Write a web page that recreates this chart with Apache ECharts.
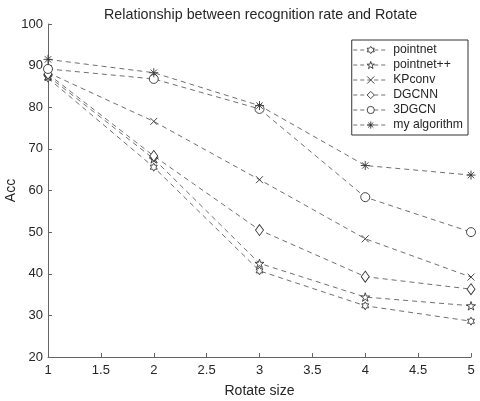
<!DOCTYPE html>
<html><head><meta charset="utf-8">
<script src="https://cdn.jsdelivr.net/npm/echarts@6/dist/echarts.min.js"></script>
<style>html,body{margin:0;padding:0;background:#fff}#c{width:480px;height:401px}</style>
</head><body><div id="c"></div>
<script>
const rotateSizes = [1, 2, 3, 4, 5];
const seriesNames = ['pointnet', 'pointnet++', 'KPconv', 'DGCNN', '3DGCN', 'my algorithm'];
const pointnet = [87.0, 65.6, 40.7, 32.3, 28.6];
const pointnetPP = [87.5, 67.6, 42.5, 34.4, 32.3];
const kpconv = [88.3, 76.6, 62.6, 48.4, 39.2];
const dgcnn = [88.0, 68.3, 50.5, 39.3, 36.3];
const gcn3d = [89.2, 86.8, 79.6, 58.4, 50.0];
const myAlgorithm = [91.5, 88.3, 80.4, 66.0, 63.7];
const xTicks = [1, 1.5, 2, 2.5, 3, 3.5, 4, 4.5, 5];
const yTicks = [20, 30, 40, 50, 60, 70, 80, 90, 100];

const values = [pointnet, pointnetPP, kpconv, dgcnn, gcn3d, myAlgorithm];
const symbols = [
  'path://M0,-10L2.89,-5L8.66,-5L5.77,0L8.66,5L2.89,5L0,10L-2.89,5L-8.66,5L-5.77,0L-8.66,-5L-2.89,-5Z',
  'path://M0,-10L2.25,-3.09L9.51,-3.09L3.63,1.18L5.88,8.09L0,3.82L-5.88,8.09L-3.63,1.18L-9.51,-3.09L-2.25,-3.09Z',
  'path://M-10,-10L10,10M10,-10L-10,10',
  'diamond',
  'circle',
  'path://M-10,0L10,0M0,-10L0,10M-7.07,-7.07L7.07,7.07M7.07,-7.07L-7.07,7.07'
];
const sizes = [[8,8],[9,9],[7,7],[8,11],[9,9],[9,9]];
const lineCol = '#707070';
const markCol = '#333';

const chart = echarts.init(document.getElementById('c'), null, {renderer: 'canvas'});
const font = 'Liberation Sans, Arial, sans-serif';
chart.setOption({
  animation: false,
  backgroundColor: '#fff',
  title: {
    text: 'Relationship between recognition rate and Rotate',
    left: 99, top: 3,
    textStyle: {fontFamily: font, fontSize: 14.3, fontWeight: 'normal', color: '#262626'}
  },
  legend: {
    data: seriesNames,
    orient: 'vertical',
    right: 12, top: 40,
    itemWidth: 35, itemHeight: 9, itemGap: 3,
    padding: [4, 5, 4, 1],
    borderColor: '#333', borderWidth: 1,
    backgroundColor: '#fff',
    itemStyle: {color: '#fff', borderColor: markCol, borderWidth: 0.9},
    lineStyle: {color: lineCol, width: 1, type: [4, 3]},
    textStyle: {fontFamily: font, fontSize: 12.2, color: '#262626'}
  },
  grid: {left: 48, right: 9, top: 24, bottom: 44, outerBoundsMode: 'none', containLabel: false},
  xAxis: {
    type: 'value', min: 1, max: 5, interval: 0.5,
    name: 'Rotate size', nameLocation: 'middle', nameGap: 27, nameMoveOverlap: false,
    nameTextStyle: {fontFamily: font, fontSize: 14, color: '#262626'},
    axisLine: {show: true, lineStyle: {color: '#666'}},
    axisTick: {show: true, inside: true, length: 4, lineStyle: {color: '#666'}},
    axisLabel: {fontFamily: font, fontSize: 13, color: '#262626', margin: 7,
      formatter: v => xTicks.includes(v) ? String(v) : ''},
    splitLine: {show: false}
  },
  yAxis: {
    type: 'value', min: 20, max: 100, interval: 10,
    name: 'Acc', nameLocation: 'middle', nameGap: 30, nameMoveOverlap: false,
    nameTextStyle: {fontFamily: font, fontSize: 14, color: '#262626'},
    axisLine: {show: true, lineStyle: {color: '#666'}},
    axisTick: {show: true, inside: true, length: 4, lineStyle: {color: '#666'}},
    axisLabel: {fontFamily: font, fontSize: 13, color: '#262626', margin: 5,
      formatter: v => yTicks.includes(v) ? String(v) : ''},
    splitLine: {show: false}
  },
  series: seriesNames.map((name, i) => ({
    name: name,
    type: 'line',
    color: lineCol,
    data: rotateSizes.map((x, j) => [x, values[i][j]]),
    symbol: symbols[i],
    symbolSize: sizes[i],
    symbolKeepAspect: true,
    showAllSymbol: true,
    lineStyle: {color: lineCol, width: 1, type: [5, 4]},
    itemStyle: {color: '#fff', borderColor: markCol, borderWidth: 0.9},
    emphasis: {disabled: true}
  }))
});
</script></body></html>
